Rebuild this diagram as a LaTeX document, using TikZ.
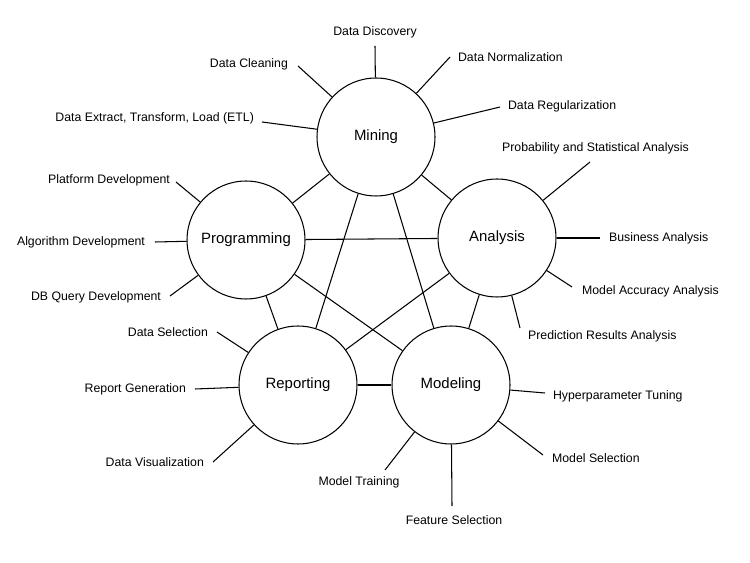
\documentclass[tikz,border=0pt]{standalone}
\usepackage{fontspec}
\setmainfont{Liberation Sans}
\usepackage{tikz}
\usetikzlibrary{calc}

\tikzset{
  area/.style = {circle, draw, semithick, minimum size = 5.9cm*0.4, font = \fontsize{8.5}{10}\selectfont},
  skill/.style = {font = \fontsize{7}{8}\selectfont, inner sep = 1pt},
  spoke/.style = {draw, semithick}
}

\begin{document}
\begin{tikzpicture}[x = 0.02cm, y = -0.02cm]
\useasboundingbox[fill = white] (0, 0) rectangle (750, 563);

\node[area] (mining) at (376, 137) {Mining};
\node[area] (prog) at (246, 240) {Programming};
\node[area] (analysis) at (497, 238) {Analysis};
\node[area] (report) at (298, 385) {Reporting};
\node[area] (model) at (451, 385) {Modeling};

% links between areas
\draw[spoke] (mining) -- (prog);
\draw[spoke] (mining) -- (analysis);
\draw[spoke] (mining) -- (report);
\draw[spoke] (mining) -- (model);
\draw[spoke] (prog) -- (analysis);
\draw[spoke] (prog) -- (report);
\draw[spoke] (prog) -- (model);
\draw[spoke] (analysis) -- (report);
\draw[spoke] (analysis) -- (model);
\draw[spoke] (report) -- (model);

% mining
\node[skill] (discovery) at (375, 32) {Data Discovery};
\node[skill, anchor = west] (normal) at (456, 57) {Data Normalization};
\node[skill, anchor = west] (regular) at (506, 106) {Data Regularization};
\node[skill, anchor = east] (cleaning) at (290, 64) {Data Cleaning};
\node[skill, anchor = east] (etl) at (256, 118) {Data Extract, Transform, Load (ETL)};
\coordinate (e1) at (375, 46);
\coordinate (e2) at (450, 57);
\coordinate (e3) at (500, 107);
\coordinate (e4) at (298, 66);
\coordinate (e5) at (262, 122);
\foreach \e in {e1, e2, e3, e4, e5} \draw[spoke] (mining) -- (\e);

% programming
\node[skill, anchor = east] (platform) at (172, 180) {Platform Development};
\node[skill, anchor = east] (algo) at (147, 242) {Algorithm Development};
\node[skill, anchor = east] (dbquery) at (163, 297) {DB Query Development};
\coordinate (p1) at (176, 182);
\coordinate (p2) at (155, 242);
\coordinate (p3) at (170, 296);
\foreach \e in {p1, p2, p3} \draw[spoke] (prog) -- (\e);

% analysis
\node[skill, anchor = west] (prob) at (500, 148) {Probability and Statistical Analysis};
\node[skill, anchor = west] (business) at (607, 238) {Business Analysis};
\node[skill, anchor = west] (accuracy) at (580, 291) {Model Accuracy Analysis};
\node[skill, anchor = west] (predict) at (526, 336) {Prediction Results Analysis};
\coordinate (a1) at (590, 162);
\coordinate (a2) at (600, 238);
\coordinate (a3) at (572, 287);
\coordinate (a4) at (520, 328);
\foreach \e in {a1, a2, a3, a4} \draw[spoke] (analysis) -- (\e);

% reporting
\node[skill, anchor = east] (selection) at (210, 332) {Data Selection};
\node[skill, anchor = east] (generation) at (188, 389) {Report Generation};
\node[skill, anchor = east] (visual) at (206, 462) {Data Visualization};
\coordinate (r1) at (217, 332);
\coordinate (r2) at (195, 389);
\coordinate (r3) at (213, 462);
\foreach \e in {r1, r2, r3} \draw[spoke] (report) -- (\e);

% modeling
\node[skill, anchor = west] (hyper) at (551, 396) {Hyperparameter Tuning};
\node[skill, anchor = west] (modelsel) at (550, 458) {Model Selection};
\node[skill] (training) at (359, 482) {Model Training};
\node[skill] (feature) at (454, 520) {Feature Selection};
\coordinate (m1) at (545, 393);
\coordinate (m2) at (543, 455);
\coordinate (m3) at (385, 470);
\coordinate (m4) at (452, 506);
\foreach \e in {m1, m2, m3, m4} \draw[spoke] (model) -- (\e);

\end{tikzpicture}
\end{document}
